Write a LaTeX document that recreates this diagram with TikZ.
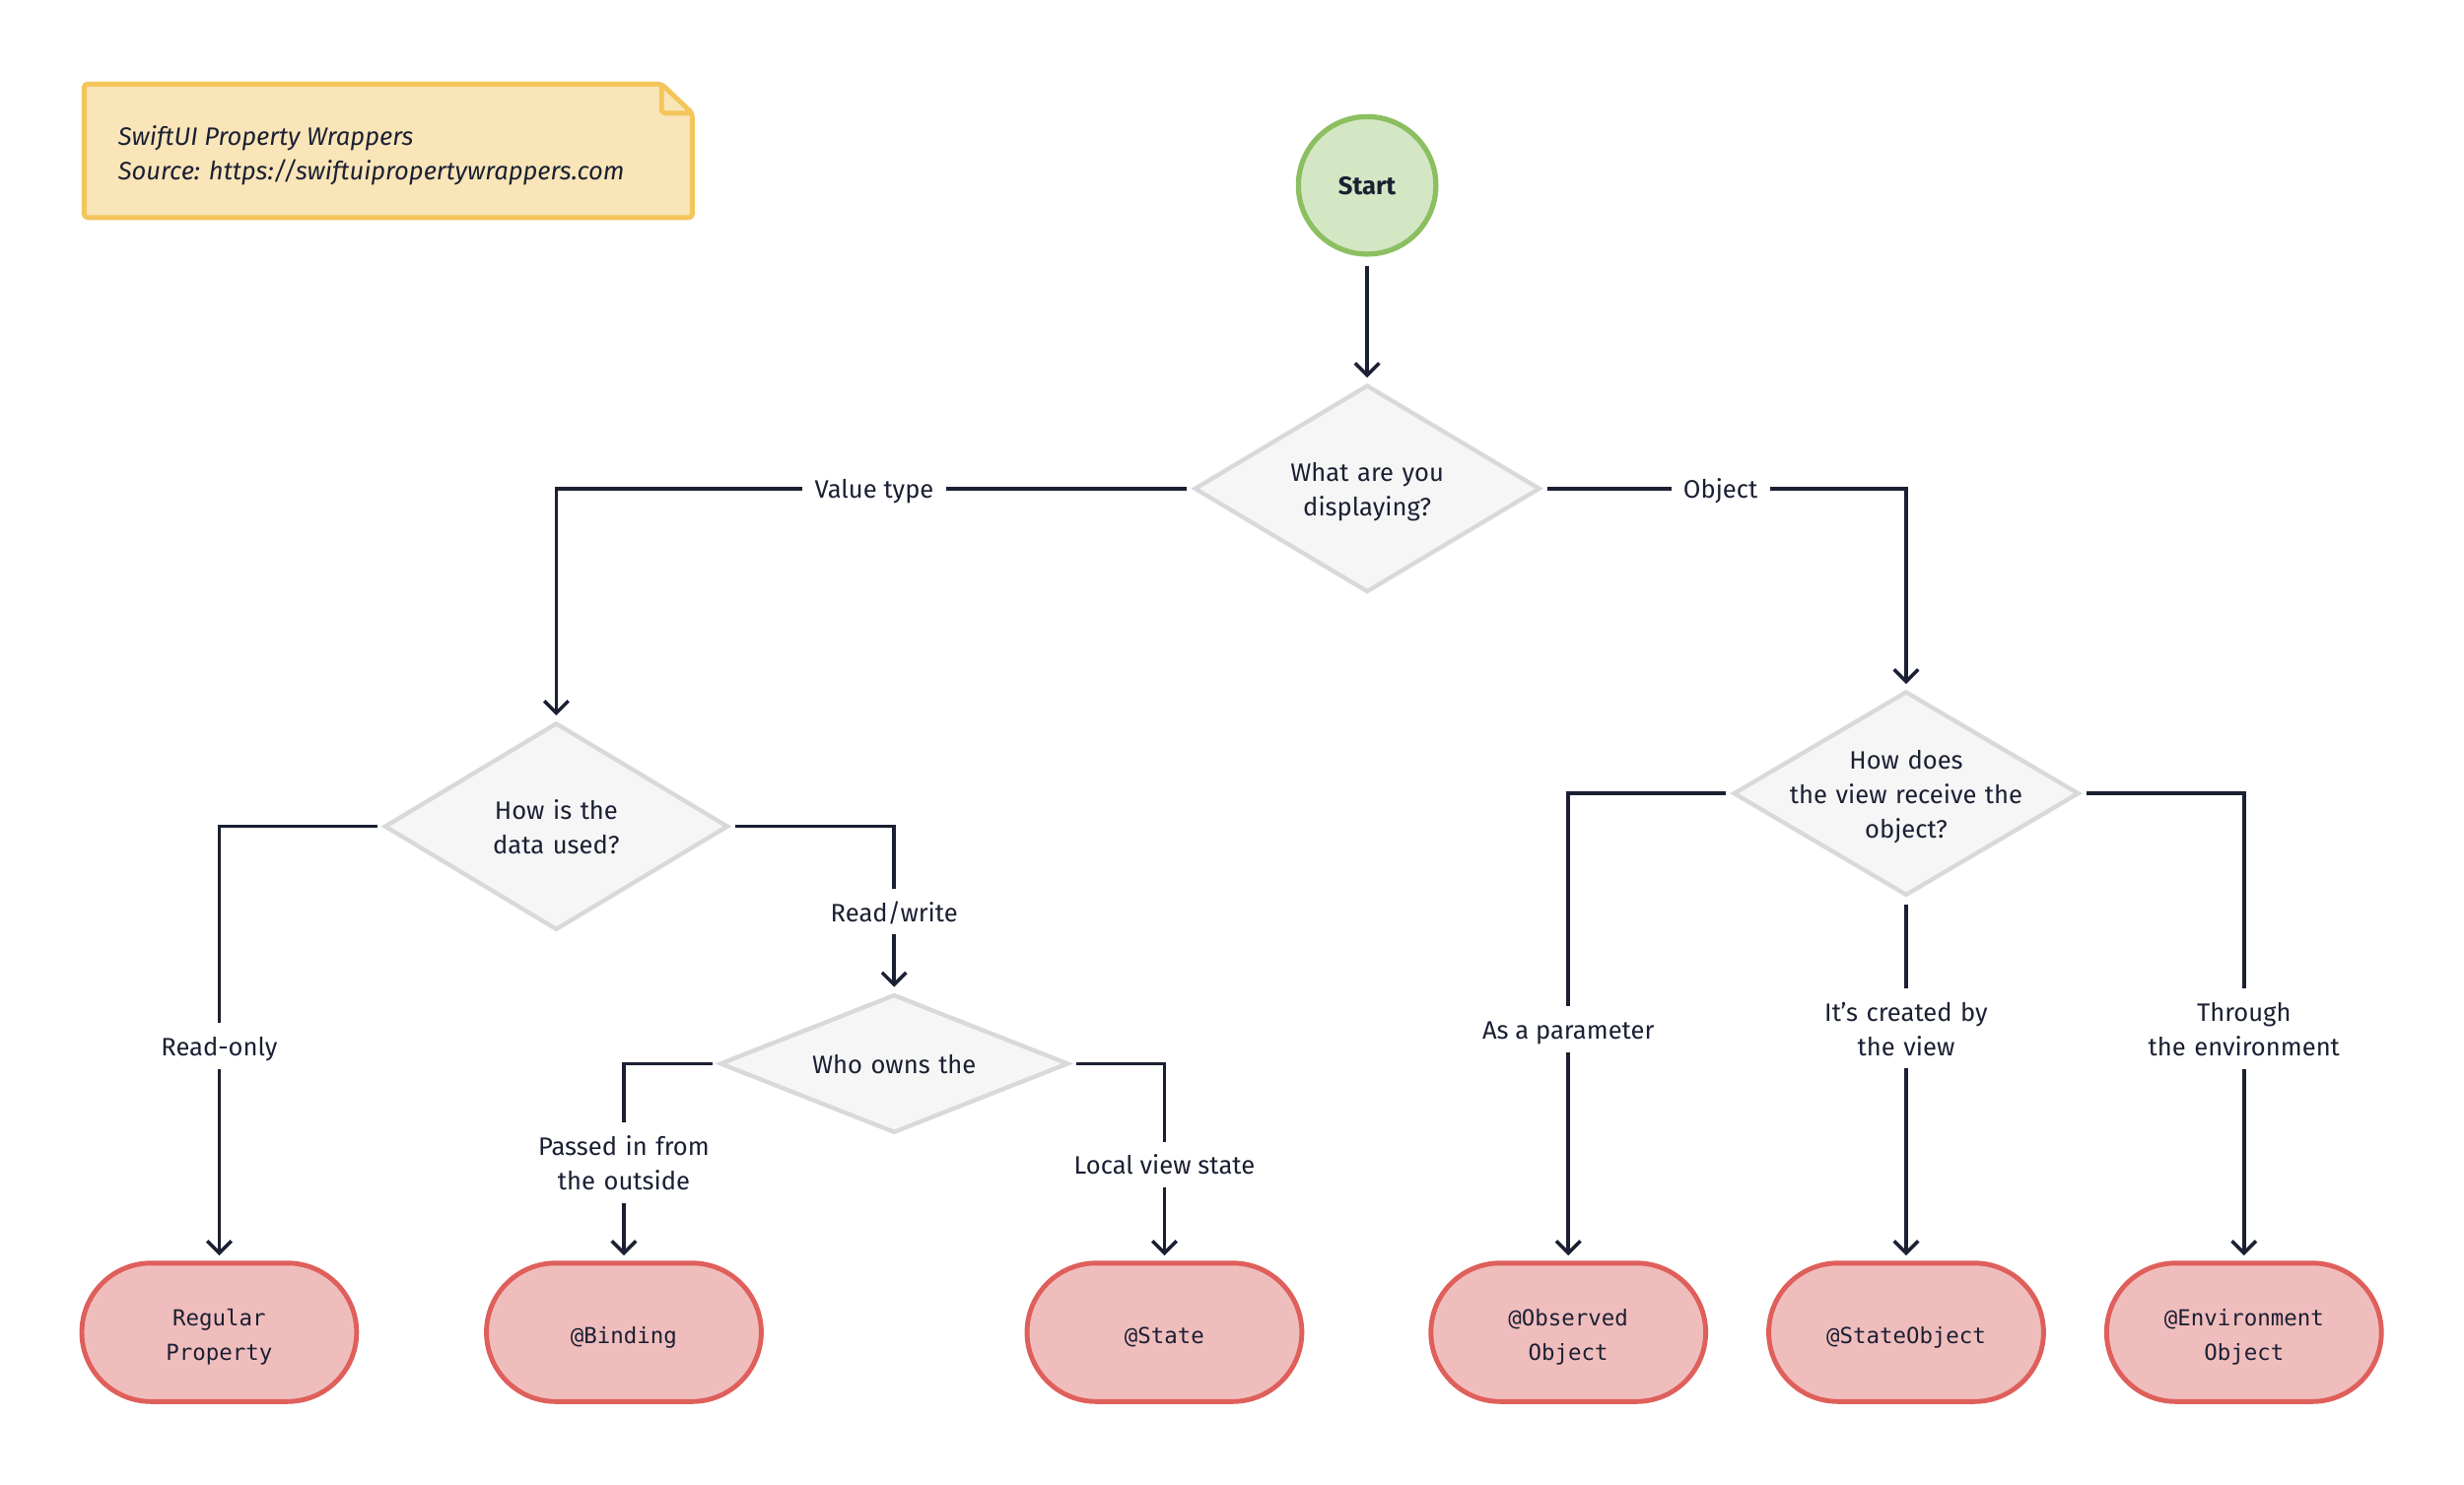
\documentclass[tikz,border=0pt]{standalone}
\usepackage{fontspec}
\setmainfont{Fira Sans}
\setmonofont{DejaVu Sans Mono}
\usepackage{xcolor}
\usetikzlibrary{arrows.meta, shapes.geometric, shapes.misc}

\definecolor{ink}{HTML}{1B2033}
\definecolor{startfill}{HTML}{D4E7C4}
\definecolor{startline}{HTML}{8BBF60}
\definecolor{askfill}{HTML}{F6F6F6}
\definecolor{askline}{HTML}{D9D9DC}
\definecolor{wrapfill}{HTML}{F0BDBD}
\definecolor{wrapline}{HTML}{DF5F5B}
\definecolor{notefill}{HTML}{F9E5B8}
\definecolor{noteline}{HTML}{F3C55A}

\begin{document}
\begin{tikzpicture}[x=0.032cm, y=-0.032cm,
    every node/.style={text=ink},
    txt/.style={font=\fontsize{14.6}{20}\selectfont, align=center,
        execute at begin node={\rule{0pt}{15.5pt}}, execute at end node={\rule[-4pt]{0pt}{4pt}}},
    begin/.style={circle, draw=startline, fill=startfill, line width=3pt, minimum size=2.8cm, font=\fontsize{14.6}{20}\selectfont\bfseries},
    ask/.style={diamond, draw=askline, fill=askfill, line width=2.5pt, inner sep=0pt, inner xsep=-2cm, txt, text width=5cm},
    wrapper/.style={rounded rectangle, draw=wrapline, fill=wrapfill, line width=2.8pt, minimum width=5.83cm, minimum height=2.82cm, font=\fontsize{12.8}{19.5}\selectfont\ttfamily, align=center, text width=3.3cm,
        execute at begin node={\rule{0pt}{16.5pt}}, execute at end node={\rule[-4pt]{0pt}{4pt}}},
    flow/.style={-{Straight Barb[length=7pt, width=14pt]}, line width=2pt, draw=ink, shorten >=3pt, shorten <=3pt},
    choice/.style={txt, fill=white, inner xsep=7pt, inner ysep=3.5pt},
    twoline/.style={text width=4.2cm},
    notebox/.style={draw=noteline, fill=notefill, line width=2.8pt, rounded corners=2pt, line join=round}
]
    \useasboundingbox (0,0) rectangle (1568,945.1);

    % Note
    \draw[notebox] (53.5,53.5) -- (421,53.5) -- (440.5,72) -- (440.5,138.5) -- (53.5,138.5) -- cycle;
    \draw[notebox, fill=none] (421,53.5) -- (421,72) -- (440.5,72);
    \node[align=left, anchor=west, inner sep=0pt, font=\fontsize{14.6}{20}\selectfont\itshape] (note) at (75,99)
        {SwiftUI Property Wrappers\\Source: https://swiftuipropertywrappers.com};

    % Nodes
    \node[begin] (start) at (870,118) {Start};
    \node[ask, minimum width=7.04cm, minimum height=4.22cm] (what) at (870,311) {What are you\\displaying?};
    \node[ask, minimum width=7.0cm, minimum height=4.22cm] (how) at (354,526) {How is the\\data used?};
    \node[ask, minimum width=7.1cm, minimum height=2.82cm] (who) at (569,677) {Who owns the};
    \node[ask, minimum width=7.04cm, minimum height=4.16cm] (recv) at (1213,505) {How does\\the view receive the\\object?};

    \node[wrapper] (regular) at (139.5,848) {Regular\\Property};
    \node[wrapper] (binding) at (397,848) {@Binding};
    \node[wrapper] (state) at (741,848) {@State};
    \node[wrapper] (observed) at (998,848) {@Observed\\Object};
    \node[wrapper] (stateobj) at (1213,848) {@StateObject};
    \node[wrapper] (envobj) at (1428,848) {@Environment\\Object};

    % Arrows
    \draw[flow, shorten <=5.5pt] (start) -- (what);
    \draw[flow] (what.west) -| (how.north) node[choice, pos=0.25] {Value type};
    \draw[flow] (what.east) -| (recv.north) node[choice, pos=0.245] {Object};
    \draw[flow] (how.west) -| (regular.north) node[choice, pos=0.753] {Read-only};
    \draw[flow] (how.east) -| (who.north) node[choice, pos=0.757] {Read/write};
    \draw[flow] (who.west) -| (binding.north) node[choice, twoline, pos=0.752] {Passed in from\\the outside};
    \draw[flow] (who.east) -| (state.north) node[choice, pos=0.756] {Local view state};
    \draw[flow] (recv.west) -| (observed.north) node[choice, pos=0.7525] {As a parameter};
    \draw[flow, shorten <=4pt] (recv.south) -- (stateobj.north) node[choice, twoline, pos=0.36] {It’s created by\\the view};
    \draw[flow] (recv.east) -| (envobj.north) node[choice, twoline, pos=0.752] {Through\\the environment};
\end{tikzpicture}
\end{document}
